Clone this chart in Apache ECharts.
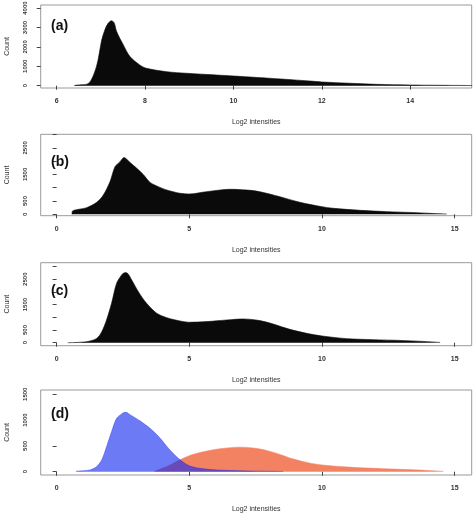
<!DOCTYPE html>
<html>
<head>
<meta charset="utf-8">
<script src="https://cdn.jsdelivr.net/npm/echarts@6/dist/echarts.min.js"></script>
<style>
  html, body { margin: 0; padding: 0; background: #fff; }
  #chart { width: 474px; height: 513px; }
</style>
</head>
<body>
<div id="chart"></div>
<script>
// panel (a): log2 intensity vs count
const aX = [6.40, 6.45, 6.71, 6.90, 7.02, 7.09, 7.16, 7.24, 7.30, 7.36, 7.51, 7.66, 7.88, 8.03, 8.49, 8.94, 9.62, 10.0, 11.07, 11.82, 12.0, 12.63, 13.23, 14.0, 15.27, 15.4]
const aCount = [0, 30, 100, 980, 2350, 2870, 3200, 3350, 3250, 2780, 2100, 1500, 1070, 900, 720, 640, 550, 500, 345, 225, 190, 125, 70, 35, 10, 8]

// panel (b)
const bX = [0.58, 0.60, 1.13, 1.51, 1.76, 2.01, 2.20, 2.39, 2.47, 2.54, 2.62, 2.76, 3.02, 3.28, 3.52, 3.83, 4.15, 4.65, 5.0, 5.65, 6.53, 7.41, 7.91, 8.54, 9.17, 10.0, 10.43, 11.43, 12.44, 13.57, 14.19, 14.7, 14.72]
const bCount = [0, 125, 250, 450, 725, 1225, 1790, 1980, 2080, 2140, 2090, 1955, 1730, 1480, 1200, 1040, 915, 790, 765, 850, 940, 890, 790, 625, 450, 285, 225, 150, 100, 60, 30, 10, 0]

// panel (c)
const cX = [0.42, 0.44, 1.13, 1.51, 1.70, 1.88, 2.07, 2.26, 2.45, 2.53, 2.61, 2.70, 2.83, 3.08, 3.39, 3.77, 4.15, 4.65, 5.0, 5.65, 6.41, 7.03, 7.66, 8.16, 8.79, 9.42, 10.0, 10.93, 11.93, 12.94, 13.82, 14.45, 14.47]
const cCount = [0, 10, 40, 170, 430, 895, 1550, 2340, 2670, 2740, 2760, 2700, 2470, 2010, 1550, 1160, 985, 855, 805, 830, 895, 935, 870, 735, 525, 370, 265, 160, 120, 90, 50, 10, 0]

// panel (d): two overlaid groups
const dBlueX = [0.73, 0.75, 1.26, 1.51, 1.70, 1.88, 2.07, 2.26, 2.45, 2.53, 2.61, 2.70, 2.83, 3.14, 3.52, 3.90, 4.27, 4.65, 5.0, 5.40, 6.03, 7.29, 8.54, 8.56]
const dBlueCount = [0, 10, 35, 100, 230, 485, 775, 1035, 1120, 1145, 1150, 1130, 1085, 985, 840, 650, 420, 230, 115, 65, 35, 15, 5, 0]
const dRedX = [3.68, 3.70, 4.15, 4.65, 5.0, 5.40, 6.03, 6.91, 7.66, 8.29, 8.92, 9.55, 10.0, 10.80, 11.69, 12.94, 13.95, 14.57, 14.59]
const dRedCount = [0, 10, 100, 230, 310, 370, 435, 475, 440, 355, 245, 165, 130, 95, 70, 45, 25, 5, 0]

const panelNames = ["(a)", "(b)", "(c)", "(d)"]
const aTicks = [6, 8, 10, 12, 14]
const bcdTicks = [0, 5, 10, 15]
const aYTicks = [0, 1000, 2000, 3000, 4000]
const aYLabels = [0, 1000, 2000, 3000, 4000]
const bcYTicks = [0, 500, 1000, 1500, 2000, 2500, 3000]
const bcYLabels = [0, 500, 1500, 2500]
const dYTicks = [0, 500, 1000, 1500]
const dYLabels = [0, 500, 1000, 1500]

const pairs = (xs, ys) => xs.map((x, i) => [x, ys[i]])

const chart = echarts.init(document.getElementById("chart"))

const font = "Liberation Sans, Arial, sans-serif"
const grids = [
  { left: 40.7, right: 2.3, top: 5, height: 83 },
  { left: 40.7, right: 2.3, top: 134.3, height: 81.4 },
  { left: 40.7, right: 2.3, top: 262.7, height: 83 },
  { left: 40.7, right: 2.3, top: 390, height: 85 },
].map((g) => ({
  ...g,
  show: true,
  containLabel: false,
  outerBoundsMode: "none",
  borderColor: "#9a9a9a",
  borderWidth: 1,
}))

function xAxis(i, min, max, ticks) {
  return {
    type: "value",
    gridIndex: i,
    min: min,
    max: max,
    name: "Log2 intensities",
    nameLocation: "middle",
    nameGap: 31,
    nameTextStyle: { fontSize: 7, color: "#333", fontFamily: font },
    axisLine: { show: false },
    splitLine: { show: false },
    axisTick: {
      show: true,
      length: 4,
      customValues: ticks,
      lineStyle: { color: "#444" },
    },
    axisLabel: {
      customValues: ticks,
      formatter: (v) => String(v),
      fontSize: 7,
      color: "#333",
      margin: 10,
      fontWeight: "bold",
      fontFamily: font,
    },
  }
}

function yAxis(i, min, max, ticks, labels) {
  return {
    type: "value",
    gridIndex: i,
    min: min,
    max: max,
    name: "Count",
    nameLocation: "middle",
    nameGap: 30,
    nameTextStyle: { fontSize: 7, color: "#333", fontFamily: font },
    axisLine: { show: false },
    splitLine: { show: false },
    axisTick: {
      show: true,
      length: 4,
      customValues: ticks,
      lineStyle: { color: "#444" },
    },
    axisLabel: {
      customValues: labels,
      formatter: (v) => String(v),
      rotate: 90,
      fontSize: 6,
      color: "#333",
      margin: 12,
      fontWeight: "bold",
      fontFamily: font,
    },
  }
}

function histSeries(i, data, color, z) {
  return {
    type: "line",
    xAxisIndex: i,
    yAxisIndex: i,
    data: data,
    showSymbol: false,
    smooth: 0.3,
    z: z,
    lineStyle: { color: color, width: 0.6 },
    itemStyle: { color: color },
    areaStyle: { color: color, opacity: 1 },
  }
}

const option = {
  backgroundColor: "#fff",
  animation: false,
  grid: grids,
  title: [
    { text: panelNames[0], left: 46, top: 14 },
    { text: panelNames[1], left: 46, top: 150 },
    { text: panelNames[2], left: 46, top: 279 },
    { text: panelNames[3], left: 46, top: 402 },
  ].map((t) => ({
    ...t,
    textStyle: { fontSize: 14, fontWeight: "bold", color: "#111", fontFamily: font },
  })),
  xAxis: [
    xAxis(0, 5.64, 15.39, aTicks),
    xAxis(1, -0.6, 15.64, bcdTicks),
    xAxis(2, -0.6, 15.64, bcdTicks),
    xAxis(3, -0.6, 15.64, bcdTicks),
  ],
  yAxis: [
    yAxis(0, -120, 4160, aYTicks, aYLabels),
    yAxis(1, -53, 3008, bcYTicks, bcYLabels),
    yAxis(2, -118, 3150, bcYTicks, bcYLabels),
    yAxis(3, -64, 1583, dYTicks, dYLabels),
  ],
  series: [
    histSeries(0, pairs(aX, aCount), "#0a0a0a", 2),
    histSeries(1, pairs(bX, bCount), "#0a0a0a", 2),
    histSeries(2, pairs(cX, cCount), "#0a0a0a", 2),
    histSeries(3, pairs(dRedX, dRedCount), "#f38262", 2),
    histSeries(3, pairs(dBlueX, dBlueCount), "rgba(20, 40, 240, 0.62)", 3),
  ],
}

chart.setOption(option)
</script>
</body>
</html>
